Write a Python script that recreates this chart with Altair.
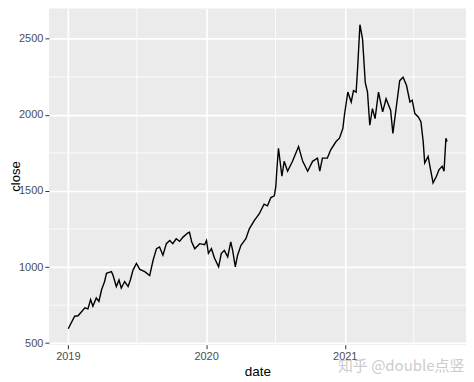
import altair as alt
import pandas as pd

dates = [
    "2019-01-02", "2019-01-19", "2019-01-28", "2019-02-15", "2019-02-23", "2019-03-02",
    "2019-03-08", "2019-03-17", "2019-03-24", "2019-03-31", "2019-04-08", "2019-04-13",
    "2019-04-26", "2019-04-30", "2019-05-09", "2019-05-16", "2019-05-22", "2019-05-31",
    "2019-06-09", "2019-06-15", "2019-06-22", "2019-07-01", "2019-07-10", "2019-07-23",
    "2019-08-05", "2019-08-14", "2019-08-23", "2019-08-31", "2019-09-09", "2019-09-18",
    "2019-09-27", "2019-10-05", "2019-10-14", "2019-10-23", "2019-11-01", "2019-11-14",
    "2019-11-18", "2019-11-24", "2019-12-02", "2019-12-15", "2019-12-28", "2020-01-02",
    "2020-01-07", "2020-01-15", "2020-01-23", "2020-02-03", "2020-02-10", "2020-02-18",
    "2020-02-27", "2020-03-06", "2020-03-11", "2020-03-18", "2020-03-24", "2020-04-02",
    "2020-04-15", "2020-04-24", "2020-05-07", "2020-05-20", "2020-06-02", "2020-06-11",
    "2020-06-20", "2020-06-29", "2020-07-03", "2020-07-06", "2020-07-10", "2020-07-19",
    "2020-07-25", "2020-08-03", "2020-08-16", "2020-09-01", "2020-09-12", "2020-09-25",
    "2020-10-08", "2020-10-21", "2020-10-27", "2020-11-03", "2020-11-16", "2020-11-25",
    "2020-12-09", "2020-12-18", "2020-12-27", "2020-12-31", "2021-01-09", "2021-01-18",
    "2021-01-24", "2021-01-31", "2021-02-04", "2021-02-10", "2021-02-17", "2021-02-24",
    "2021-03-02", "2021-03-08", "2021-03-15", "2021-03-22", "2021-03-31", "2021-04-11",
    "2021-04-20", "2021-05-02", "2021-05-08", "2021-05-17", "2021-05-26", "2021-06-04",
    "2021-06-13", "2021-06-22", "2021-06-28", "2021-07-05", "2021-07-14", "2021-07-21",
    "2021-07-27", "2021-07-31", "2021-08-09", "2021-08-13", "2021-08-22", "2021-08-31",
    "2021-09-07", "2021-09-15", "2021-09-20", "2021-09-25", "2021-09-28",
]
close = [
    595, 677, 680, 732, 725, 786,
    742, 797, 775, 851, 905, 959,
    970, 948, 872, 915, 862, 905,
    872, 915, 980, 1024, 985, 970,
    944, 1045, 1121, 1132, 1078, 1154,
    1175, 1154, 1186, 1169, 1197, 1225,
    1229, 1165, 1121, 1154, 1147, 1175,
    1090, 1121, 1060, 1002, 1089, 1110,
    1067, 1165, 1110, 1002, 1078, 1143,
    1186, 1251, 1305, 1349, 1414, 1403,
    1457, 1468, 1530, 1651, 1781, 1597,
    1695, 1630, 1695, 1792, 1695, 1630,
    1695, 1716, 1630, 1716, 1716, 1771,
    1825, 1847, 1911, 1998, 2150, 2085,
    2160, 2150, 2312, 2593, 2496, 2214,
    2150, 1932, 2041, 1976, 2150, 2020,
    2106, 2031, 1879, 2052, 2225, 2247,
    2193, 2085, 2096, 2009, 1987, 1955,
    1825, 1684, 1727, 1673, 1554, 1597,
    1641, 1662, 1630, 1847, 1825,
]

x_ticks = ["2019-01-01", "2020-01-01", "2021-01-01"]
x_minor = ["2019-07-02", "2020-07-02", "2021-07-02"]
y_ticks = [500, 1000, 1500, 2000, 2500]
y_minor = [750, 1250, 1750, 2250]
x_domain = ["2018-11-12", "2021-11-17"]
y_domain = [490, 2700]

df = pd.DataFrame({"date": pd.to_datetime(dates), "close": close})
xminor_df = pd.DataFrame({"date": pd.to_datetime(x_minor)})
yminor_df = pd.DataFrame({"close": y_minor})

FONT = "Liberation Sans"

xscale = alt.Scale(domain=x_domain)
yscale = alt.Scale(domain=y_domain, nice=False, zero=False)

vminor = alt.Chart(xminor_df).mark_rule(color="white", strokeWidth=0.8).encode(
    x=alt.X("date:T", scale=xscale)
)
hminor = alt.Chart(yminor_df).mark_rule(color="white", strokeWidth=0.8).encode(
    y=alt.Y("close:Q", scale=yscale)
)

line = alt.Chart(df).mark_line(color="black", strokeWidth=1.4).encode(
    x=alt.X(
        "date:T",
        scale=xscale,
        title="date",
        axis=alt.Axis(
            values=x_ticks, format="%Y", labelColor="#4D4D4D", labelFontSize=11,
            tickColor="#333333", tickSize=4, domain=False, grid=True,
            gridColor="white", gridWidth=1.6, labelPadding=2,
            titleFontSize=13.5, titleFontWeight="normal", titleColor="black",
            titlePadding=3, labelFont=FONT, titleFont=FONT,
        ),
    ),
    y=alt.Y(
        "close:Q",
        scale=yscale,
        title="close",
        axis=alt.Axis(
            values=y_ticks, format="d", labelColor="#4D4D4D", labelFontSize=11,
            tickColor="#333333", tickSize=4, domain=False, grid=True,
            gridColor="white", gridWidth=1.6, labelPadding=2,
            titleFontSize=13, titleFontWeight="normal", titleColor="black",
            titleX=-33, titleY=168, titleAlign="center", titleBaseline="middle",
            titleAngle=270, labelFont=FONT, titleFont=FONT,
        ),
    ),
)

watermark = alt.Chart(pd.DataFrame({"t": ["知乎 @double点竖"]})).mark_text(
    font="Noto Sans CJK SC", fontSize=15, color="#c4c4c4", opacity=0.85,
    align="center", baseline="middle",
).encode(text="t:N", x=alt.value(353), y=alt.value(358))

chart = alt.layer(vminor, hminor, line, watermark).properties(
    width=418, height=337,
    autosize=alt.AutoSizeParams(type="none"),
    padding={"left": 41, "top": 0, "right": 0, "bottom": 36},
    background="white",
).configure_view(fill="#EBEBEB", strokeWidth=0)

chart.save("out.html", embed_options={"renderer": "svg", "actions": False})
